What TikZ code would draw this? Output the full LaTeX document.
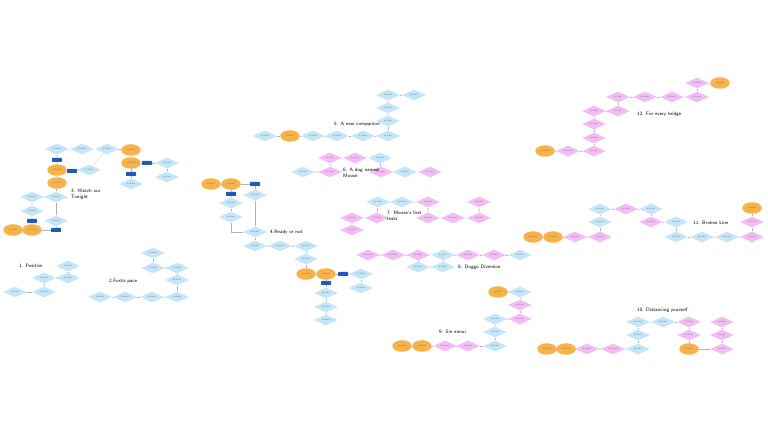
\documentclass[tikz,border=0pt]{standalone}
\usepackage{tikz}
\usetikzlibrary{shapes.geometric}
\definecolor{scnblue}{HTML}{C4E5FA}
\definecolor{scnpink}{HTML}{F2BDF5}
\definecolor{evtorange}{HTML}{F7B24A}
\definecolor{lnkblue}{HTML}{1E5BB8}
\tikzset{
  scn/.style={diamond, aspect=2.2, fill=scnblue, minimum width=0.48cm, minimum height=0.22cm,
    inner sep=0pt, font=\fontsize{1.5}{2}\selectfont, text=black!60},
  pnk/.style={scn, fill=scnpink},
  evt/.style={ellipse, fill=evtorange, minimum width=0.39cm, minimum height=0.23cm,
    inner sep=0pt, font=\fontsize{1.5}{2}\selectfont, text=black!60},
  lnk/.style={rectangle, fill=lnkblue, minimum width=0.2cm, minimum height=0.08cm,
    inner sep=0pt, rounded corners=0.3pt},
  cn/.style={draw=gray!60, line width=0.35pt},
  lbl/.style={font=\sffamily\fontsize{2.8}{3.6}\selectfont, align=left, anchor=west, inner sep=0.5pt},
}
\begin{document}
\begin{tikzpicture}[x=0.02cm,y=-0.02cm]
    \useasboundingbox (0,0) rectangle (768,431);
    % 1 Positive
    \node[scn] (pa) at (68,266) {scene};
    \node[scn] (pb) at (68,278) {scene};
    \node[scn] (pc) at (44,278) {scene};
    \node[scn] (pd) at (44,292) {scene};
    \node[scn] (pe) at (15,292) {scene};
    \node[lbl] (pt) at (18,266) {1. Positive};
    \draw[cn] (pa) -- (pb) -- (pc) -- (pd) -- (pe);
    % 2 Fortis pace
    \node[scn] (fa) at (153,253) {scene};
    \node[scn] (fb) at (153,268) {scene};
    \node[scn] (fc) at (177,268) {scene};
    \node[scn] (fd) at (177,280) {scene};
    \node[scn] (fe) at (177,297) {scene};
    \node[scn] (ff) at (152,297) {scene};
    \node[scn] (fg) at (125,297) {scene};
    \node[scn] (fh) at (100,297) {scene};
    \node[lbl] (ft) at (108,281) {2.Fortis pace};
    \draw[cn] (fa) -- (fb) -- (fc) -- (fd) -- (fe) -- (ff) -- (fg) -- (fh);
    % 3 Watch our Tonight
    \node[scn] (wa) at (57,149) {scene};
    \node[scn] (wb) at (82,149) {scene};
    \node[scn] (wc) at (107,149) {scene};
    \node[evt] (wd) at (131,150) {event};
    \node[lnk] (wl1) at (57,160) {};
    \node[evt] (we) at (57,170) {event};
    \node[lnk] (wl2) at (72,171) {};
    \node[scn] (wf) at (89,170) {scene};
    \node[evt] (wg) at (57,183) {event};
    \node[evt] (wh) at (131,163) {event};
    \node[lnk] (wl3) at (147,163) {};
    \node[scn] (wi) at (167,163) {scene};
    \node[scn] (wj) at (167,177) {scene};
    \node[lnk] (wl4) at (131,174) {};
    \node[scn] (wk) at (131,184) {scene};
    \node[scn] (wm) at (56,197) {scene};
    \node[scn] (wn) at (32,197) {scene};
    \node[scn] (wo) at (32,211) {scene};
    \node[lnk] (wl5) at (32,221) {};
    \node[scn] (wp) at (56,221) {scene};
    \node[evt] (wq) at (13,230) {event};
    \node[evt] (wr) at (32,230) {event};
    \node[lnk] (wl6) at (56,230) {};
    \node[lbl] (wt) at (70,194) {3. Watch our\\Tonight};
    \draw[cn] (wa) -- (wb) -- (wc) -- (wd) -- (wh);
    \draw[cn, draw=gray!25] (wf) -- (wc);
    \draw[cn] (wa) -- (wl1) -- (we) -- (wg) -- (wm) -- (wn) -- (wo) -- (wl5) -- (wr) -- (wq);
    \draw[cn] (we) -- (wl2) -- (wf);
    \draw[cn] (wh) -- (wl3) -- (wi) -- (wj);
    \draw[cn] (wh) -- (wl4) -- (wk);
    \draw[cn] (wm) -- (wp) -- (wl6) -- (wr);
    % 4 Ready or not
    \node[evt] (ra) at (211,184) {event};
    \node[evt] (rb) at (231,184) {event};
    \node[lnk] (rl1) at (255,184) {};
    \node[lnk] (rl2) at (231,194) {};
    \node[scn] (rc) at (255,195) {scene};
    \node[scn] (rd) at (231,203) {scene};
    \node[scn] (re) at (231,217) {scene};
    \node[scn] (rf) at (255,232) {scene};
    \node[scn] (rg) at (255,246) {scene};
    \node[scn] (rh) at (280,246) {scene};
    \node[scn] (ri) at (306,246) {scene};
    \node[scn] (rj) at (306,259) {scene};
    \node[evt] (rk) at (306,274) {event};
    \node[evt] (rm) at (326,274) {event};
    \node[lnk] (rl3) at (343,274) {};
    \node[scn] (rn) at (361,274) {scene};
    \node[scn] (ro) at (361,288) {scene};
    \node[lnk] (rl4) at (326,283) {};
    \node[scn] (rp) at (326,293) {scene};
    \node[scn] (rq) at (326,307) {scene};
    \node[scn] (rr) at (326,320) {scene};
    \node[lbl] (rt) at (269,232) {4.Ready or not};
    \draw[cn] (ra) -- (rb) -- (rl1) -- (rc) -- (rf) -- (rg) -- (rh) -- (ri) -- (rj) -- (rk) -- (rm);
    \draw[cn] (rb) -- (rl2) -- (rd) -- (re);
    \draw[cn] (re) |- (rf);
    \draw[cn] (rm) -- (rl3) -- (rn) -- (ro);
    \draw[cn] (rm) -- (rl4) -- (rp) -- (rq) -- (rr);
    % 5 A new companion
    \node[scn] (ca) at (265,136) {scene};
    \node[evt] (cb) at (290,136) {event};
    \node[scn] (cc) at (313,136) {scene};
    \node[scn] (cd) at (337,136) {scene};
    \node[scn] (ce) at (363,136) {scene};
    \node[scn] (cf) at (388,136) {scene};
    \node[scn] (cg) at (388,121) {scene};
    \node[scn] (ch) at (388,108) {scene};
    \node[scn] (ci) at (388,95) {scene};
    \node[scn] (cj) at (414,95) {scene};
    \node[lbl] (ct) at (333,124) {5. A new companion};
    \draw[cn] (ca) -- (cb) -- (cc) -- (cd) -- (ce) -- (cf) -- (cg) -- (ch) -- (ci) -- (cj);
    % 6 A dog named Moose
    \node[pnk] (da) at (330,158) {scene};
    \node[pnk] (db) at (355,158) {scene};
    \node[scn] (dc) at (380,158) {scene};
    \node[scn] (dd) at (303,172) {scene};
    \node[pnk] (de) at (330,172) {scene};
    \node[pnk] (df) at (381,172) {scene};
    \node[scn] (dg) at (405,172) {scene};
    \node[pnk] (dh) at (430,172) {scene};
    \node[lbl] (dt) at (342,173) {6. A dog named\\Moose};
    \draw[cn] (dd) -- (de) -- (da) -- (db) -- (dc) -- (df) -- (dg) -- (dh);
    % 7 Moose's first tests
    \node[scn] (ma) at (378,202) {scene};
    \node[scn] (mb) at (402,202) {scene};
    \node[pnk] (mc) at (428,202) {scene};
    \node[pnk] (md) at (352,218) {scene};
    \node[pnk] (me) at (377,218) {scene};
    \node[pnk] (mf) at (352,230) {scene};
    \node[pnk] (mg) at (428,218) {scene};
    \node[pnk] (mh) at (453,218) {scene};
    \node[pnk] (mi) at (479,218) {scene};
    \node[pnk] (mj) at (479,202) {scene};
    \node[lbl] (mt) at (386,216) {7. Moose's first\\tests};
    \draw[cn] (mf) -- (md) -- (me) -- (ma) -- (mb) -- (mc) -- (mg) -- (mh) -- (mi) -- (mj);
    % 8 Doggo Diversion
    \node[pnk] (ga) at (368,255) {scene};
    \node[pnk] (gb) at (393,255) {scene};
    \node[pnk] (gc) at (418,255) {scene};
    \node[scn] (gd) at (443,255) {scene};
    \node[pnk] (ge) at (468,255) {scene};
    \node[pnk] (gf) at (494,255) {scene};
    \node[scn] (gg) at (520,255) {scene};
    \node[scn] (gh) at (418,267) {scene};
    \node[scn] (gi) at (443,267) {scene};
    \node[lbl] (gt) at (457,267) {8. Doggo Diversion};
    \draw[cn] (ga) -- (gb) -- (gc) -- (gh) -- (gi) -- (gd) -- (ge) -- (gf) -- (gg);
    % 9 Sin ennui
    \node[evt] (sa) at (498,292) {event};
    \node[scn] (sb) at (520,292) {scene};
    \node[pnk] (sc) at (520,305) {scene};
    \node[pnk] (sd) at (520,319) {scene};
    \node[scn] (se) at (495,319) {scene};
    \node[scn] (sf) at (495,332) {scene};
    \node[scn] (sg) at (495,346) {scene};
    \node[pnk] (sh) at (468,346) {scene};
    \node[pnk] (si) at (445,346) {scene};
    \node[evt] (sj) at (422,346) {event};
    \node[evt] (sk) at (402,346) {event};
    \node[lbl] (st) at (438,332) {9. Sin ennui};
    \draw[cn] (sa) -- (sb) -- (sc) -- (sd) -- (se) -- (sf) -- (sg) -- (sh) -- (si) -- (sj) -- (sk);
    % 10 Distancing yourself
    \node[evt] (ya) at (547,349) {event};
    \node[evt] (yb) at (566,349) {event};
    \node[pnk] (yc) at (587,349) {scene};
    \node[pnk] (yd) at (613,349) {scene};
    \node[scn] (ye) at (638,349) {scene};
    \node[scn] (yf) at (638,335) {scene};
    \node[scn] (yg) at (638,322) {scene};
    \node[scn] (yh) at (663,322) {scene};
    \node[pnk] (yi) at (689,322) {scene};
    \node[pnk] (yj) at (689,335) {scene};
    \node[evt] (yk) at (689,349) {event};
    \node[pnk] (ym) at (722,349) {scene};
    \node[pnk] (yn) at (722,335) {scene};
    \node[pnk] (yo) at (722,322) {scene};
    \node[lbl] (yt) at (636,310) {10. Distancing yourself};
    \draw[cn] (ya) -- (yb) -- (yc) -- (yd) -- (ye) -- (yf) -- (yg) -- (yh) -- (yi) -- (yj) -- (yk) -- (ym) -- (yn) -- (yo);
    % 11 Broken Line
    \node[evt] (ka) at (533,237) {event};
    \node[evt] (kb) at (553,237) {event};
    \node[pnk] (kc) at (575,237) {scene};
    \node[pnk] (kd) at (600,237) {scene};
    \node[scn] (ke) at (600,222) {scene};
    \node[scn] (kf) at (600,209) {scene};
    \node[pnk] (kg) at (626,209) {scene};
    \node[scn] (kh) at (651,209) {scene};
    \node[pnk] (ki) at (651,222) {scene};
    \node[scn] (kj) at (676,222) {scene};
    \node[scn] (kk) at (676,237) {scene};
    \node[scn] (km) at (702,237) {scene};
    \node[scn] (kn) at (727,237) {scene};
    \node[pnk] (ko) at (752,237) {scene};
    \node[pnk] (kp) at (752,222) {scene};
    \node[evt] (kq) at (752,208) {event};
    \node[lbl] (kt) at (692,223) {11. Broken Line};
    \draw[cn] (ka) -- (kb) -- (kc) -- (kd) -- (ke) -- (kf) -- (kg) -- (kh) -- (ki) -- (kj) -- (kk) -- (km) -- (kn) -- (ko) -- (kp) -- (kq);
    % 12 For every bridge
    \node[evt] (ba) at (545,151) {event};
    \node[pnk] (bb) at (568,151) {scene};
    \node[pnk] (bc) at (594,151) {scene};
    \node[pnk] (bd) at (594,138) {scene};
    \node[pnk] (be) at (594,124) {scene};
    \node[pnk] (bf) at (594,111) {scene};
    \node[pnk] (bg) at (618,111) {scene};
    \node[pnk] (bh) at (618,97) {scene};
    \node[pnk] (bi) at (645,97) {scene};
    \node[pnk] (bj) at (672,97) {scene};
    \node[pnk] (bk) at (697,97) {scene};
    \node[pnk] (bm) at (697,83) {scene};
    \node[evt] (bn) at (720,83) {event};
    \node[lbl] (bt) at (636,114) {12. For every bridge};
    \draw[cn] (ba) -- (bb) -- (bc) -- (bd) -- (be) -- (bf) -- (bg) -- (bh) -- (bi) -- (bj) -- (bk) -- (bm) -- (bn);
\end{tikzpicture}
\end{document}
